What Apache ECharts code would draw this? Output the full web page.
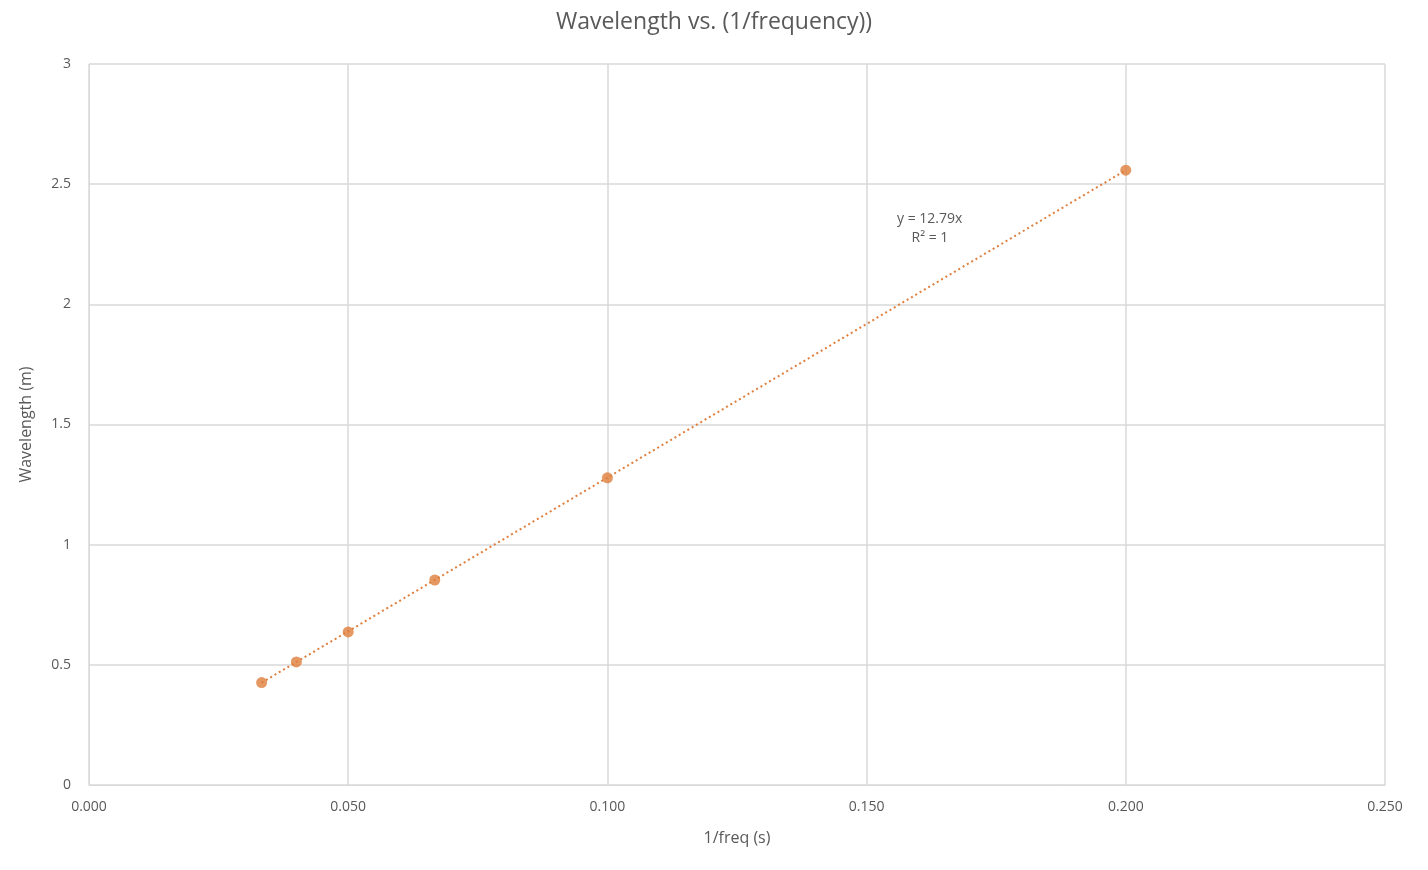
<!DOCTYPE html>
<html><head><meta charset="utf-8">
<script src="https://cdn.jsdelivr.net/npm/echarts@6/dist/echarts.min.js"></script>
<style>html,body{margin:0;padding:0;background:#fff}#c{width:1428px;height:870px}</style>
</head><body><div id="c"></div>
<script>
const xValues = [0.0333, 0.04, 0.05, 0.0667, 0.1, 0.2];
const yValues = [0.426, 0.512, 0.637, 0.853, 1.278, 2.558];
const slope = 12.79;
const trendX = [0.0333, 0.2];
const xTicks = ['0.000','0.050','0.100','0.150','0.200','0.250'];

const chart = echarts.init(document.getElementById('c'));
const txt = '#595959', grid = '#d9d9d9', col = '#E07E3C';
chart.setOption({
  animation:false,
  title:{text:'Wavelength vs. (1/frequency))',left:'center',top:6,textStyle:{fontFamily:'Open Sans',fontSize:23,fontWeight:'normal',color:txt}},
  grid:{left:89,right:43,top:64,bottom:85},
  xAxis:{type:'value',min:0,max:0.25,interval:0.05,name:'1/freq (s)',nameLocation:'middle',nameGap:45,
    nameTextStyle:{fontFamily:'Open Sans',fontSize:16,color:txt},
    axisLine:{lineStyle:{color:grid}},axisTick:{show:false},
    axisLabel:{color:txt,fontFamily:'Open Sans',fontSize:14,margin:15,formatter:v=>v.toFixed(3)},
    splitLine:{lineStyle:{color:grid,width:1.5}}},
  yAxis:{type:'value',min:0,max:3,interval:0.5,name:'Wavelength (m)',nameLocation:'middle',nameGap:55,
    nameTextStyle:{fontFamily:'Open Sans',fontSize:16,color:txt},
    axisLine:{show:true,lineStyle:{color:grid}},axisTick:{show:false},
    axisLabel:{color:txt,fontFamily:'Open Sans',fontSize:14,margin:18},
    splitLine:{lineStyle:{color:grid,width:1.5}}},
  series:[
    {type:'line',data:trendX.map(x=>[x,slope*x]),symbol:'none',lineStyle:{color:col,width:2,type:[2,3]},silent:true,z:1},
    {type:'scatter',data:xValues.map((x,i)=>[x,yValues[i]]),symbolSize:11,itemStyle:{color:col},z:2},
  ],
  graphic:[{type:'text',left:897,top:210,style:{text:'y = 12.79x\n    R² = 1',fill:txt,font:'14px "Open Sans"',lineHeight:19}}]
});
</script></body></html>
